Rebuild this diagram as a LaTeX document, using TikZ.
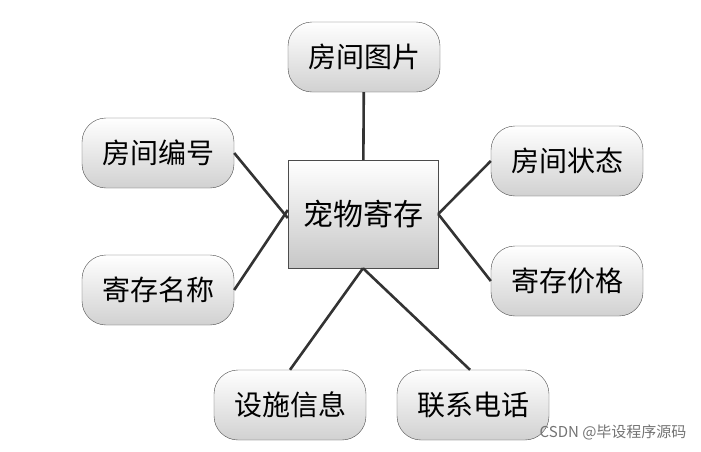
\documentclass[tikz,border=0pt]{standalone}
\usepackage{fontspec}
\newfontfamily\cjk{Noto Sans CJK SC}
\tikzset{
    attr/.style={draw=black!70, rounded corners=24pt, minimum width=152pt, minimum height=70pt,
        top color=white, bottom color=black!18, font=\cjk\fontsize{28}{32}\selectfont},
    entity/.style={draw=black!70, minimum width=150pt, minimum height=108pt,
        top color=white, bottom color=black!22, font=\cjk\fontsize{30}{34}\selectfont},
    link/.style={draw=black!80, line width=2.6pt}
}
\begin{document}
\begin{tikzpicture}[x=1pt,y=-1pt]
    \useasboundingbox (0,0) rectangle (701,451);
    \node[entity] (pet) at (363,214) {宠物寄存};
    \node[attr] (pic) at (364,57) {房间图片};
    \node[attr] (num) at (158,153) {房间编号};
    \node[attr] (name) at (158,290) {寄存名称};
    \node[attr] (state) at (567,161) {房间状态};
    \node[attr] (price) at (567,281) {寄存价格};
    \node[attr] (fac) at (290,405) {设施信息};
    \node[attr] (tel) at (473,405) {联系电话};
    \node[text=black!55, font=\cjk\fontsize{15}{17}\selectfont, anchor=east] (mark) at (690,432) {CSDN @毕设程序源码};

    \draw[link] (pic) -- (pet);
    \draw[link] (num.east) -- ([yshift=-4pt]pet.west);
    \draw[link] (name.east) -- ([yshift=4pt]pet.west);
    \draw[link] (state.west) -- (pet.east);
    \draw[link] (price.west) -- (pet.east);
    \draw[link] (pet.south) -- (fac.north);
    \draw[link] (pet.south) -- ([xshift=-3pt]tel.north);
\end{tikzpicture}
\end{document}
